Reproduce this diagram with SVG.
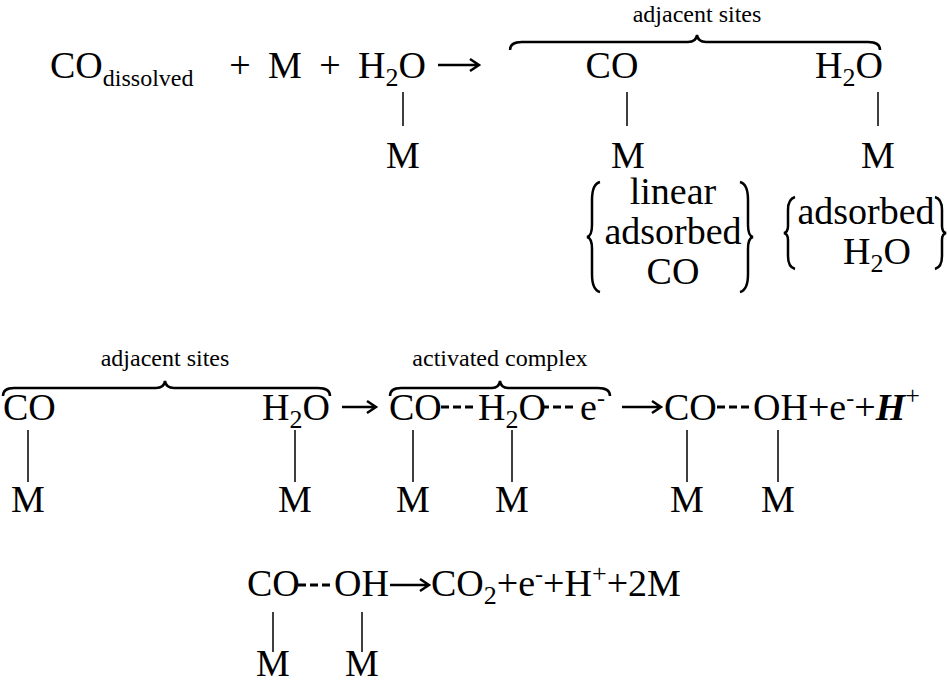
<svg xmlns="http://www.w3.org/2000/svg" width="947" height="684" viewBox="0 0 947 684" font-family="'Liberation Serif','Times New Roman','DejaVu Serif',serif">
<defs><style>
text{font-family:'Liberation Serif','Times New Roman','DejaVu Serif',serif;fill:#000}
.b{font-size:38px}.s{font-size:24px}.l{font-size:24px}
.ln{stroke:#000;stroke-width:1.5;fill:none}
.br{stroke:#000;stroke-width:2.5;fill:none}
.d{stroke:#000;stroke-width:3;stroke-dasharray:8,4}
</style></defs>
<g id="row1">
<text class="b" x="50" y="78">CO<tspan class="s" font-size="26" dy="8">dissolved</tspan></text>
<text class="b" x="240" y="78" text-anchor="middle">+</text>
<text class="b" x="285" y="78" text-anchor="middle">M</text>
<text class="b" x="330" y="78" text-anchor="middle">+</text>
<text class="b" x="358" y="78">H<tspan font-size="26" dy="8">2</tspan><tspan dy="-8">O</tspan></text>
<path class="br" d="M438,65 H478 M470,59 L479,65 L470,71"/>
<text class="l" x="697" y="22" text-anchor="middle">adjacent sites</text>
<path class="br" d="M510,50 Q510,42 522,42 H688 Q696,42 697,35 Q698,42 706,42 H868 Q880,42 880,50"/>
<text class="b" x="612" y="78" text-anchor="middle">CO</text>
<text class="b" x="815" y="78">H<tspan font-size="26" dy="8">2</tspan><tspan dy="-8">O</tspan></text>
<path class="ln" d="M403,92 V126 M627,92 V126 M878,92 V126"/>
<text class="b" x="403" y="168" text-anchor="middle">M</text>
<text class="b" x="628" y="168" text-anchor="middle">M</text>
<text class="b" x="878" y="168" text-anchor="middle">M</text>
<text class="b" x="673" y="204" text-anchor="middle">linear</text>
<text class="b" x="673" y="244" text-anchor="middle">adsorbed</text>
<text class="b" x="673" y="284" text-anchor="middle">CO</text>
<path class="br" d="M600,182 Q592,184 592,200 V225 Q592,236 587,237 Q592,238 592,249 V274 Q592,290 600,292"/>
<path class="br" d="M740,182 Q748,184 748,200 V225 Q748,236 753,237 Q748,238 748,249 V274 Q748,290 740,292"/>
<text class="b" x="866" y="224" text-anchor="middle">adsorbed</text>
<text class="b" x="843" y="264">H<tspan font-size="26" dy="8">2</tspan><tspan dy="-8">O</tspan></text>
<path class="br" d="M795,197 Q788,199 788,210 V226 Q788,232 784,233 Q788,234 788,240 V256 Q788,267 795,269"/>
<path class="br" d="M935,197 Q942,199 942,210 V226 Q942,232 946,233 Q942,234 942,240 V256 Q942,267 935,269"/>
</g>
<g id="row2">
<text class="l" x="165" y="366" text-anchor="middle">adjacent sites</text>
<path class="br" d="M3,396 Q3,388 14,388 H156 Q164,388 165,381 Q166,388 174,388 H318 Q330,388 330,396"/>
<text class="l" x="500" y="366" text-anchor="middle">activated complex</text>
<path class="br" d="M390,396 Q390,388 401,388 H492 Q499,388 500,381 Q501,388 508,388 H598 Q610,388 610,396"/>
<text class="b" x="3" y="420">CO</text>
<text class="b" x="262" y="420">H<tspan font-size="26" dy="8">2</tspan><tspan dy="-8">O</tspan></text>
<path class="br" d="M342,407 H375 M367,401 L376,407 L367,413"/>
<text class="b" x="389" y="420">CO</text>
<path class="d" d="M441,407 H477"/>
<text class="b" x="478" y="420">H<tspan font-size="26" dy="8">2</tspan><tspan dy="-8">O</tspan></text>
<path class="d" d="M541,407 H577"/>
<text class="b" x="580" y="420">e<tspan font-size="24" dy="-14">-</tspan></text>
<path class="br" d="M622,407 H660 M652,401 L661,407 L652,413"/>
<text class="b" x="664" y="420">CO</text>
<path class="d" d="M717,407 H753"/>
<text class="b" x="753" y="420">OH+e<tspan font-size="24" dy="-14">-</tspan><tspan dy="14">+</tspan><tspan font-weight="bold" font-style="italic">H</tspan><tspan font-size="26" dy="-16">+</tspan></text>
<path class="ln" d="M28,430 V482 M295,430 V482 M413,430 V482 M512,430 V482 M687,430 V482 M778,430 V482"/>
<text class="b" x="28" y="512" text-anchor="middle">M</text>
<text class="b" x="295" y="512" text-anchor="middle">M</text>
<text class="b" x="413" y="512" text-anchor="middle">M</text>
<text class="b" x="512" y="512" text-anchor="middle">M</text>
<text class="b" x="687" y="512" text-anchor="middle">M</text>
<text class="b" x="778" y="512" text-anchor="middle">M</text>
</g>
<g id="row3">
<text class="b" x="247" y="596">CO</text>
<path class="d" d="M298,585 H334"/>
<text class="b" x="334" y="596">OH</text>
<path class="br" d="M390,585 H428 M420,579 L429,585 L420,591"/>
<text class="b" x="431" y="596">CO<tspan font-size="26" dy="8">2</tspan><tspan dy="-8">+e</tspan><tspan font-size="24" dy="-14">-</tspan><tspan dy="14">+H</tspan><tspan font-size="26" dy="-14">+</tspan><tspan dy="14">+2M</tspan></text>
<path class="ln" d="M273,612 V652 M362,612 V652"/>
<text class="b" x="273" y="676" text-anchor="middle">M</text>
<text class="b" x="362" y="676" text-anchor="middle">M</text>
</g>
</svg>
